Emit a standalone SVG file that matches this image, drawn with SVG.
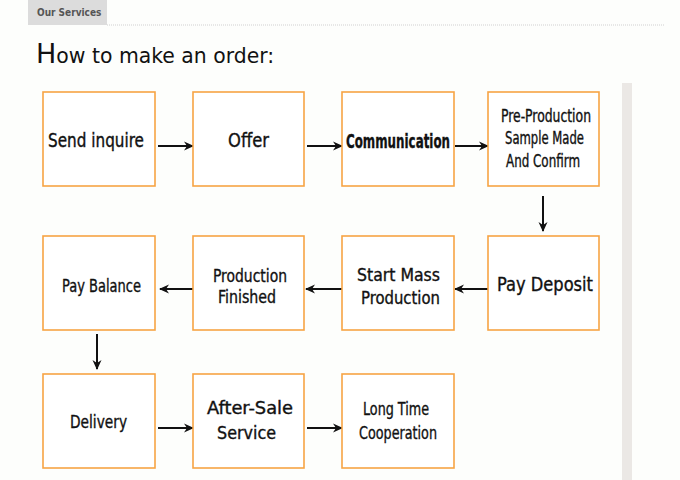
<svg xmlns="http://www.w3.org/2000/svg" width="680" height="480" viewBox="0 0 680 480">
<defs>
<style>
.box{fill:#ffffff;stroke:#f7a444;stroke-width:1.6}
.lbl{font-family:"DejaVu Sans Condensed","DejaVu Sans",sans-serif;fill:#111;stroke:#111;stroke-width:0.35;text-anchor:middle}
.con{stroke:#111;stroke-width:2;fill:none;marker-end:url(#ah)}
</style>
<marker id="ah" viewBox="0 0 10 10" refX="9" refY="5" markerWidth="10" markerHeight="10" markerUnits="userSpaceOnUse" orient="auto">
<path d="M0,0.5 L10,5 L0,9.5 L3,5 z" fill="#111"/>
</marker>
</defs>
<rect width="680" height="480" fill="#fdfefc"/>
<g id="header">
<rect x="28" y="0" width="79" height="25" fill="#dcdcdc"/>
<text x="37" y="16" font-family="'DejaVu Sans Condensed','DejaVu Sans',sans-serif" font-size="10" font-weight="bold" fill="#555">Our Services</text>
<line x1="107" y1="25" x2="664" y2="25" stroke="#d0d0d0" stroke-width="1" stroke-dasharray="1,1"/>
<text x="36" y="63" font-family="'DejaVu Sans',Verdana,sans-serif" font-size="20.4" fill="#111"><tspan font-size="27">H</tspan>ow to make an order:</text>
<rect x="622" y="83" width="10" height="397" fill="#ebe8e5"/>
</g>
<g id="connectors">
<line class="con" x1="158" y1="146" x2="193" y2="146"/>
<line class="con" x1="307" y1="146" x2="342" y2="146"/>
<line class="con" x1="455" y1="146" x2="488" y2="146"/>
<line class="con" x1="543" y1="196" x2="543" y2="231"/>
<line class="con" x1="488" y1="289" x2="455" y2="289"/>
<line class="con" x1="342" y1="289" x2="306" y2="289"/>
<line class="con" x1="193" y1="289" x2="160" y2="289"/>
<line class="con" x1="97" y1="334" x2="97" y2="369"/>
<line class="con" x1="158" y1="428" x2="193" y2="428"/>
<line class="con" x1="307" y1="428" x2="342" y2="428"/>
</g>
<g id="n1"><rect class="box" x="43" y="92" width="112" height="94"/><text class="lbl" x="96" y="147" font-size="19" textLength="96" lengthAdjust="spacingAndGlyphs">Send inquire</text></g>
<g id="n2"><rect class="box" x="193" y="92" width="111" height="94"/><text class="lbl" x="248.5" y="147" font-size="20" textLength="41" lengthAdjust="spacingAndGlyphs">Offer</text></g>
<g id="n3"><rect class="box" x="342" y="92" width="112" height="94"/><text class="lbl" x="398" y="148" font-size="20" font-weight="bold" textLength="104" lengthAdjust="spacingAndGlyphs">Communication</text></g>
<g id="n4"><rect class="box" x="488" y="92" width="111" height="94"/><text class="lbl" x="546" y="122" font-size="17" textLength="90" lengthAdjust="spacingAndGlyphs">Pre-Production</text><text class="lbl" x="544.5" y="144" font-size="17" textLength="79" lengthAdjust="spacingAndGlyphs">Sample Made</text><text class="lbl" x="543" y="167" font-size="17" textLength="74" lengthAdjust="spacingAndGlyphs">And Confirm</text></g>
<g id="n5"><rect class="box" x="488" y="236" width="111" height="94"/><text class="lbl" x="545" y="291" font-size="19" textLength="96" lengthAdjust="spacingAndGlyphs">Pay Deposit</text></g>
<g id="n6"><rect class="box" x="342" y="236" width="112" height="94"/><text class="lbl" x="398.5" y="281" font-size="18" textLength="83" lengthAdjust="spacingAndGlyphs">Start Mass</text><text class="lbl" x="400.5" y="304" font-size="18" textLength="79" lengthAdjust="spacingAndGlyphs">Production</text></g>
<g id="n7"><rect class="box" x="193" y="236" width="111" height="94"/><text class="lbl" x="250" y="282" font-size="18" textLength="74" lengthAdjust="spacingAndGlyphs">Production</text><text class="lbl" x="247" y="303" font-size="18" textLength="58" lengthAdjust="spacingAndGlyphs">Finished</text></g>
<g id="n8"><rect class="box" x="43" y="236" width="112" height="94"/><text class="lbl" x="101.5" y="292" font-size="18" textLength="79" lengthAdjust="spacingAndGlyphs">Pay Balance</text></g>
<g id="n9"><rect class="box" x="43" y="374" width="112" height="94"/><text class="lbl" x="98.5" y="428" font-size="18" textLength="57" lengthAdjust="spacingAndGlyphs">Delivery</text></g>
<g id="n10"><rect class="box" x="193" y="374" width="111" height="94"/><text class="lbl" x="250" y="414" font-size="18" textLength="86" lengthAdjust="spacingAndGlyphs">After-Sale</text><text class="lbl" x="246.5" y="439" font-size="18" textLength="59" lengthAdjust="spacingAndGlyphs">Service</text></g>
<g id="n11"><rect class="box" x="342" y="374" width="112" height="94"/><text class="lbl" x="396" y="415" font-size="18" textLength="66" lengthAdjust="spacingAndGlyphs">Long Time</text><text class="lbl" x="398" y="439" font-size="18" textLength="78" lengthAdjust="spacingAndGlyphs">Cooperation</text></g>
</svg>
